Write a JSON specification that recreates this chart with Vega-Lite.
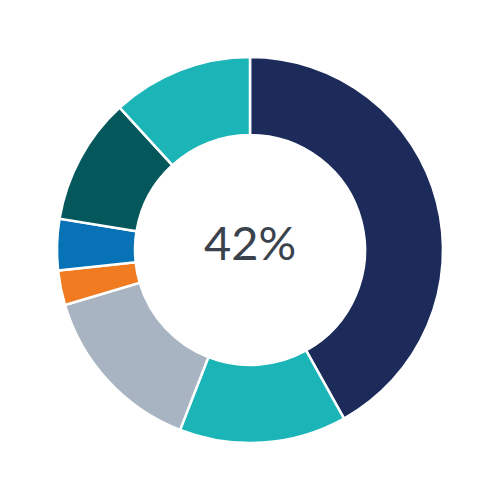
{
  "$schema": "https://vega.github.io/schema/vega-lite/v6.json",
  "width": 500,
  "height": 500,
  "autosize": {"type": "fit", "contains": "padding"},
  "padding": 0,
  "background": "white",
  "config": {"view": {"stroke": null}},
  "layer": [
    {
      "data": {
        "values": [
          {"segment": "A", "order": 1, "value": 41.9},
          {"segment": "B", "order": 2, "value": 14.0},
          {"segment": "C", "order": 3, "value": 14.5},
          {"segment": "D", "order": 4, "value": 2.9},
          {"segment": "E", "order": 5, "value": 4.3},
          {"segment": "F", "order": 6, "value": 10.6},
          {"segment": "G", "order": 7, "value": 11.8}
        ]
      },
      "mark": {"type": "arc", "radius": 193, "innerRadius": 115, "stroke": "white", "strokeWidth": 2.5},
      "encoding": {
        "theta": {"field": "value", "type": "quantitative", "stack": true},
        "order": {"field": "order", "type": "quantitative"},
        "color": {
          "field": "segment",
          "type": "nominal",
          "legend": null,
          "scale": {
            "domain": ["A", "B", "C", "D", "E", "F", "G"],
            "range": ["#1c2b5a", "#1bb5b8", "#a9b4c2", "#f07b20", "#0773b6", "#04575a", "#1bb5b8"]
          }
        }
      }
    },
    {
      "data": {"values": [{"label": "42%"}]},
      "mark": {"type": "text", "fontSize": 47, "font": "Lato", "fontWeight": 400, "color": "#3a434d", "align": "center", "baseline": "middle", "dy": -4},
      "encoding": {"text": {"field": "label", "type": "nominal"}}
    }
  ]
}
